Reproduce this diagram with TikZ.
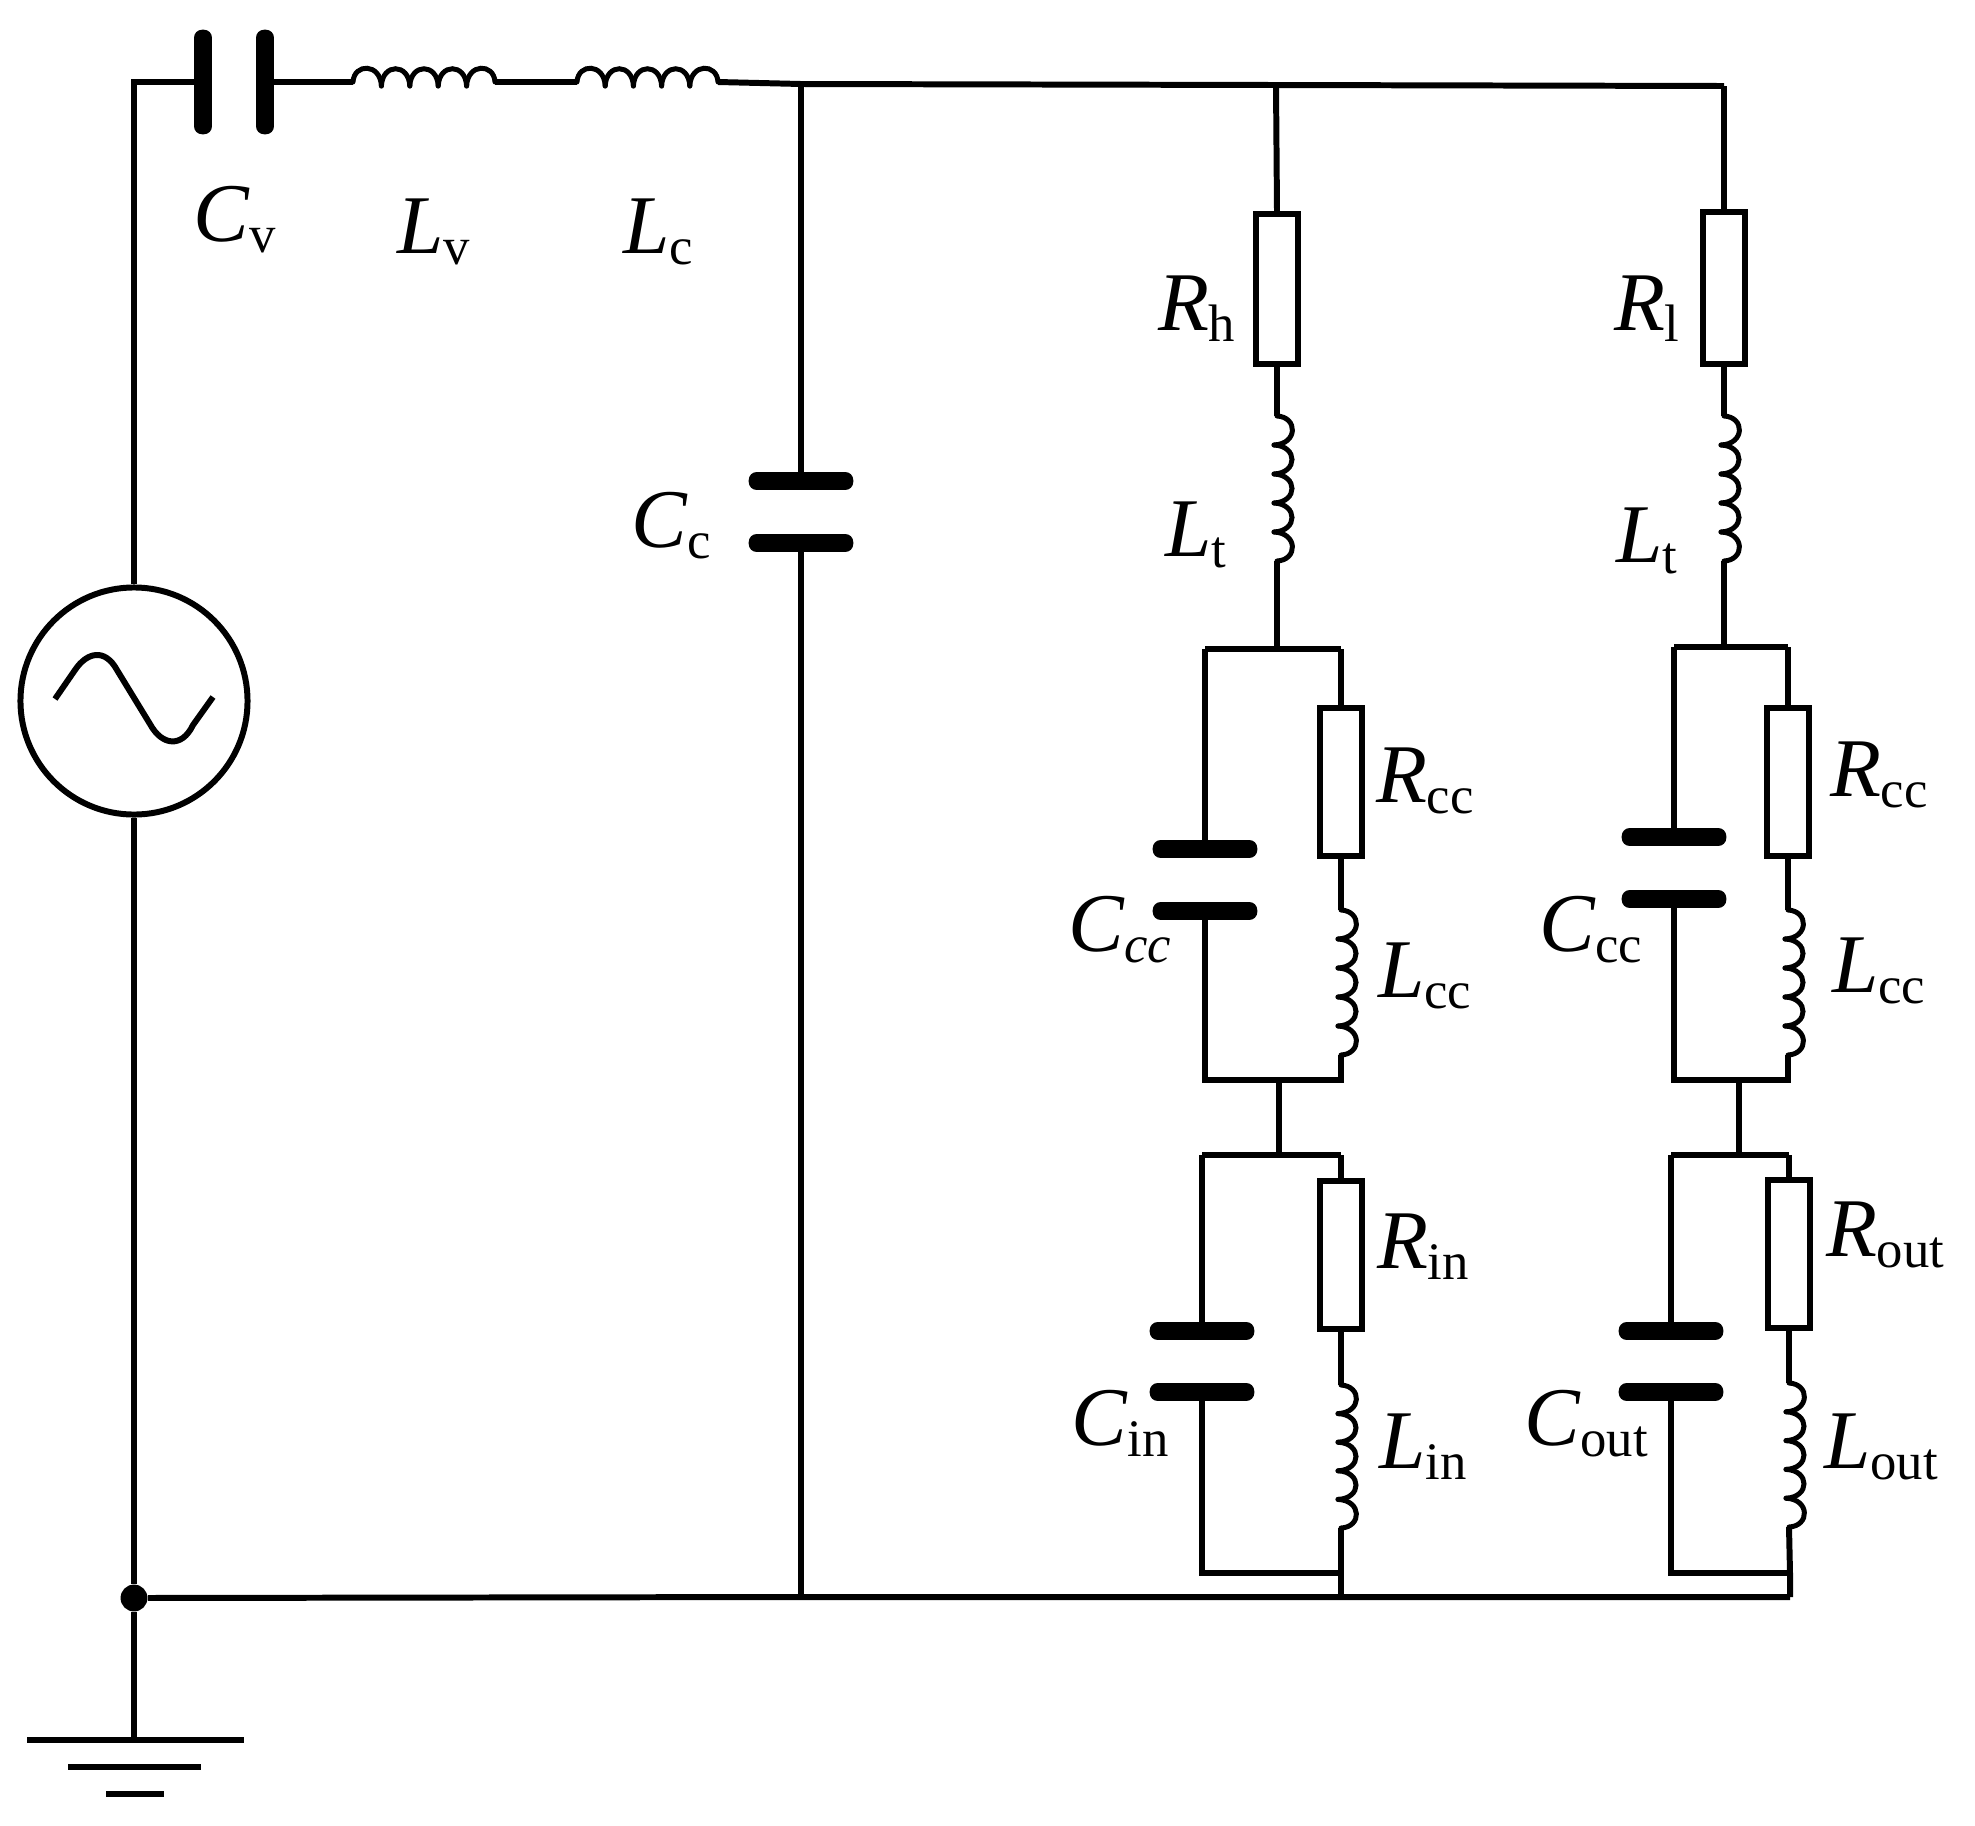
\documentclass[tikz,border=0pt]{standalone}
\usepackage{fontspec}
\setmainfont{Liberation Serif}
\newlength\pxu \setlength{\pxu}{0.5669pt}
\newcommand{\lab}[2]{\fontsize{47.5pt}{50pt}\selectfont\textit{#1}\raisebox{-6.5pt}{\fontsize{30pt}{32pt}\selectfont #2}}
\newcommand{\labi}[2]{\fontsize{47.5pt}{50pt}\selectfont\textit{#1}\raisebox{-6.5pt}{\fontsize{30pt}{32pt}\selectfont\textit{#2}}}
% horizontal inductor: name, x1, x2, y
\newcommand{\hind}[4]{%
  \coordinate (#1-a) at (#2,#4);\coordinate (#1-b) at (#3,#4);
  \pgfmathsetmacro{\st}{(#3-#2)/5}%
  \foreach \i in {0,...,4}{%
    \pgfmathsetmacro{\xa}{#2+\i*\st}\pgfmathsetmacro{\xb}{\xa+\st}%
    \pgfmathsetmacro{\ya}{\i==0?#4:#4+4}\pgfmathsetmacro{\yb}{\i==4?#4:#4+4}%
    \draw[coil] (\xa,\ya) .. controls (\xa+1,#4-19) and (\xb-1,#4-19) .. (\xb,\yb);}}
% vertical inductor: name, x, y1, y2
\newcommand{\vind}[4]{%
  \coordinate (#1-a) at (#2,#3);\coordinate (#1-b) at (#2,#4);
  \pgfmathsetmacro{\st}{(#4-#3)/5}%
  \foreach \i in {0,...,4}{%
    \pgfmathsetmacro{\ya}{#3+\i*\st}\pgfmathsetmacro{\yb}{\ya+\st}%
    \pgfmathsetmacro{\xa}{\i==0?#2:#2-3}\pgfmathsetmacro{\xb}{\i==4?#2:#2-3}%
    \draw[coil] (\xa,\ya) .. controls (#2+21,\ya+1) and (#2+21,\yb-1) .. (\xb,\yb);}}
\tikzset{
  wire/.style={line width=6\pxu,line join=miter},
  coil/.style={line width=5\pxu,line cap=round},
  plateh/.style={rectangle,fill=black,inner sep=0pt,minimum width=105\pxu,minimum height=18\pxu,rounded corners=8\pxu},
  platev/.style={rectangle,fill=black,inner sep=0pt,minimum width=18\pxu,minimum height=105\pxu,rounded corners=8\pxu},
  resbox/.style={rectangle,draw,fill=white,line width=6\pxu,inner sep=0pt,minimum width=42\pxu,minimum height=148\pxu},
  lbl/.style={anchor=base west,inner sep=0pt,outer sep=0pt},
  gline/.style={line width=6\pxu},
  src/.style={circle,draw,line width=6\pxu,inner sep=0pt,minimum size=228\pxu},
  jdot/.style={circle,fill=black,inner sep=0pt,minimum size=27\pxu}
}
\begin{document}
\begin{tikzpicture}[x=0.02cm,y=-0.02cm]
\useasboundingbox (0,0) rectangle (1975,1826);
% source and ground
\node[src] (vs) at (134,701) {};
\draw[line width=6\pxu] (55,699) -- (75,670) .. controls (87,652) and (105,648) .. (117,670) -- (150,724) .. controls (162,746) and (182,748) .. (193,725) -- (213,697);
\node[jdot] (dot) at (134,1598) {};
\coordinate (tl) at (134,82);
\coordinate (g1) at (134,1740);
\coordinate (g1a) at (27,1740); \coordinate (g1b) at (244,1740);
\coordinate (g2a) at (68,1767); \coordinate (g2b) at (201,1767);
\coordinate (g3a) at (106,1794); \coordinate (g3b) at (164,1794);
\draw[wire] (vs.south) -- (dot) -- (g1);
\draw[gline] (g1a) -- (g1b);
\draw[gline] (g2a) -- (g2b);
\draw[gline] (g3a) -- (g3b);
% series branch
\node[platev] (cv1) at (203,82) {};
\node[platev] (cv2) at (265,82) {};
\hind{lv}{353}{495}{82}
\hind{lc}{577}{718}{82}
\coordinate (n1) at (801,84);
\coordinate (n2) at (1276,85);
\coordinate (n3) at (1724,86);
\draw[wire] (vs.north) -- (tl) -- (cv1.west);
\draw[wire] (cv2.east) -- (lv-a);
\draw[wire] (lv-b) -- (lc-a);
\draw[wire] (lc-b) -- (n1) -- (n2) -- (n3);
% shunt capacitor and bus
\node[plateh] (cc1) at (801,481) {};
\node[plateh] (cc2) at (801,543) {};
\coordinate (bus0) at (801,1597);
\coordinate (bus1) at (1341,1597);
\coordinate (bus2) at (1790,1597);
\draw[wire] (n1) -- (cc1.north);
\draw[wire] (cc2.south) -- (bus0);
\draw[wire] (dot) -- (bus0) -- (bus1) -- (bus2);
% left branch
\node[resbox,minimum height=150\pxu] (rh) at (1277,289) {};
\vind{lta}{1277}{416}{561}
\coordinate (s1) at (1277,649);
\draw[wire] (n2) -- (rh.north);
\draw[wire] (rh.south) -- (lta-a);
\draw[wire] (lta-b) -- (s1);
\coordinate (a1) at (1205,649); \coordinate (a2) at (1341,649);
\coordinate (a3) at (1205,1080); \coordinate (a4) at (1341,1080);
\draw[wire] (a1) -- (a2);
\node[resbox] (rcc) at (1341,782) {};
\vind{lcc}{1341}{910}{1055}
\node[plateh] (ca1) at (1205,849) {};
\node[plateh] (ca2) at (1205,911) {};
\draw[wire] (a2) -- (rcc.north);
\draw[wire] (rcc.south) -- (lcc-a);
\draw[wire] (lcc-b) -- (a4) -- (a3) -- (ca2.south);
\draw[wire] (a1) -- (ca1.north);
\coordinate (s2) at (1279,1080); \coordinate (s3) at (1279,1155);
\draw[wire] (s2) -- (s3);
\coordinate (d1) at (1202,1155); \coordinate (d2) at (1341,1155);
\coordinate (d3) at (1202,1573); \coordinate (d4) at (1341,1573);
\draw[wire] (d1) -- (d2);
\node[resbox] (rin) at (1341,1255) {};
\vind{lin}{1341}{1385}{1528}
\node[plateh] (cb1) at (1202,1331) {};
\node[plateh] (cb2) at (1202,1392) {};
\draw[wire] (d2) -- (rin.north);
\draw[wire] (rin.south) -- (lin-a);
\draw[wire] (lin-b) -- (bus1);
\draw[wire] (d4) -- (d3) -- (cb2.south);
\draw[wire] (d1) -- (cb1.north);
% right branch
\node[resbox,minimum height=152\pxu] (rl) at (1724,288) {};
\vind{ltb}{1724}{416}{561}
\coordinate (s4) at (1724,647);
\draw[wire] (n3) -- (rl.north);
\draw[wire] (rl.south) -- (ltb-a);
\draw[wire] (ltb-b) -- (s4);
\coordinate (e1) at (1674,647); \coordinate (e2) at (1788,647);
\coordinate (e3) at (1674,1080); \coordinate (e4) at (1788,1080);
\draw[wire] (e1) -- (e2);
\node[resbox] (rcd) at (1788,782) {};
\vind{lcd}{1788}{910}{1055}
\node[plateh] (cd1) at (1674,837) {};
\node[plateh] (cd2) at (1674,899) {};
\draw[wire] (e2) -- (rcd.north);
\draw[wire] (rcd.south) -- (lcd-a);
\draw[wire] (lcd-b) -- (e4) -- (e3) -- (cd2.south);
\draw[wire] (e1) -- (cd1.north);
\coordinate (s5) at (1739,1080); \coordinate (s6) at (1739,1155);
\draw[wire] (s5) -- (s6);
\coordinate (f1) at (1671,1155); \coordinate (f2) at (1789,1155);
\coordinate (f3) at (1671,1573); \coordinate (f4) at (1790,1573);
\draw[wire] (f1) -- (f2);
\node[resbox] (rot) at (1789,1254) {};
\vind{lot}{1789}{1383}{1527}
\node[plateh] (ce1) at (1671,1331) {};
\node[plateh] (ce2) at (1671,1392) {};
\draw[wire] (f2) -- (rot.north);
\draw[wire] (rot.south) -- (lot-a);
\draw[wire] (lot-b) -- (f4) -- (bus2);
\draw[wire] (f4) -- (f3) -- (ce2.south);
\draw[wire] (f1) -- (ce1.north);
% labels
\node[lbl] (tcv) at (193,241) {\lab{C}{v}};
\node[lbl] (tlv) at (397,253) {\lab{L}{v}};
\node[lbl] (tlc) at (623,253) {\lab{L}{c}};
\node[lbl] (tcc) at (631,547) {\lab{C}{c}};
\node[lbl] (trh) at (1158,330) {\lab{R}{h}};
\node[lbl] (trl) at (1614,330) {\lab{R}{l}};
\node[lbl] (tlta) at (1165,556) {\lab{L}{t}};
\node[lbl] (tltb) at (1616,562) {\lab{L}{t}};
\node[lbl] (trcc) at (1376,802) {\lab{R}{cc}};
\node[lbl] (tlcc) at (1378,997) {\lab{L}{cc}};
\node[lbl] (tcca) at (1068,951) {\labi{C}{cc}};
\node[lbl] (trcd) at (1830,796) {\lab{R}{cc}};
\node[lbl] (tlcd) at (1832,992) {\lab{L}{cc}};
\node[lbl] (tccb) at (1539,951) {\lab{C}{cc}};
\node[lbl] (trin) at (1377,1268) {\lab{R}{in}};
\node[lbl] (tcin) at (1071,1445) {\lab{C}{in}};
\node[lbl] (tlin) at (1379,1468) {\lab{L}{in}};
\node[lbl] (trot) at (1826,1256) {\lab{R}{out}};
\node[lbl] (tcot) at (1524,1445) {\lab{C}{out}};
\node[lbl] (tlot) at (1824,1468) {\lab{L}{out}};
\end{tikzpicture}
\end{document}
